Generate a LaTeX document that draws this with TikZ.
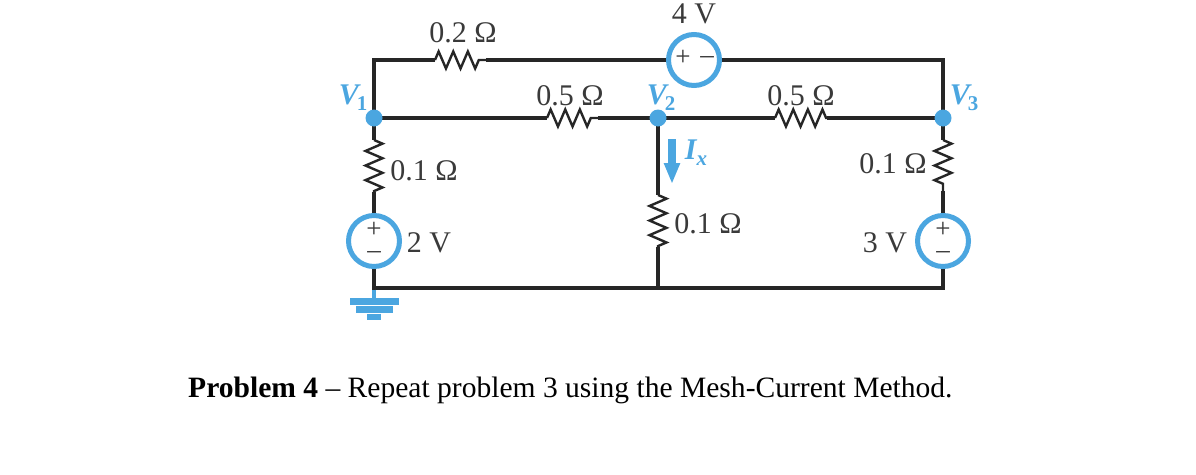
\documentclass[tikz,border=0pt]{standalone}
\usepackage{fontspec}
\setmainfont{Liberation Serif}
\usetikzlibrary{decorations.pathmorphing,arrows.meta}
\definecolor{cblue}{HTML}{4BA6E0}
\definecolor{cwire}{HTML}{262626}
\definecolor{ctext}{HTML}{3A3A3A}
\newcommand{\subtxt}[1]{\raisebox{-6pt}{\fontsize{21}{21}\selectfont #1}}
\tikzset{
  wire/.style={draw=cwire,line width=3.4pt,line cap=butt,line join=miter},
  res/.style={draw=cwire,line width=2.4pt,line join=miter,decorate,decoration={zigzag,segment length=14.6pt,amplitude=8.5pt}},
  dot/.style={circle,fill=cblue,inner sep=0pt,minimum size=17pt},
  src/.style={circle,draw=cblue,fill=white,line width=5pt,inner sep=0pt,minimum size=51pt},
  lab/.style={text=ctext,font=\fontsize{30}{30}\selectfont,inner sep=0pt},
  sgn/.style={text=ctext,font=\fontsize{27}{27}\selectfont,inner sep=0pt},
  nv/.style={text=cblue,font=\fontsize{30}{30}\selectfont\bfseries\itshape,inner sep=0pt},
  gbar/.style={fill=cblue,draw=none,minimum height=6.5pt,inner sep=0pt},
  caption/.style={text=black,font=\fontsize{29.55}{30}\selectfont,inner sep=0pt,anchor=base west}
}
\begin{document}
\begin{tikzpicture}[x=1pt,y=-1pt]
\useasboundingbox (0,0) rectangle (1196,474);
% coordinates
\coordinate (TL) at (374,60);
\coordinate (TR) at (943,60);
\coordinate (BL) at (374,288);
\coordinate (BM) at (658,288);
\coordinate (BR) at (943,288);
\coordinate (G) at (374,300);
\coordinate (R1a) at (435,60); \coordinate (R1b) at (486,60);
\coordinate (R2a) at (547,118); \coordinate (R2b) at (598,118);
\coordinate (R3a) at (775,118); \coordinate (R3b) at (827,118);
\coordinate (R4a) at (374,140); \coordinate (R4b) at (374,192);
\coordinate (R5a) at (658,195); \coordinate (R5b) at (658,247);
\coordinate (R6a) at (943,140); \coordinate (R6b) at (943,191);
\coordinate (N1) at (374,118); \coordinate (N2) at (658,118); \coordinate (N3) at (943,118);
% wires
\draw[wire] (R1a) -- (TL) -- (N1) -- (R4a);
\draw[wire] (R4b) -- (BL) -- (BR) -- (R6b);
\draw[wire] (R6a) -- (N3) -- (TR) -- (R1b);
\draw[wire] (N1) -- (R2a) (R2b) -- (R3a) (R3b) -- (N3);
\draw[wire] (N2) -- (R5a) (R5b) -- (BM);
\draw[draw=cblue,line width=4pt] (BL) ++(0,1.7) -- (G);
% resistors
\draw[res] (R1a) -- (R1b);
\draw[res] (R2a) -- (R2b);
\draw[res] (R3a) -- (R3b);
\draw[res] (R4a) -- (R4b);
\draw[res] (R5a) -- (R5b);
\draw[res] (R6a) -- (R6b);
% sources
\node[src] (S4) at (694,60) {};
\node[src] (S2) at (374,241) {};
\node[src] (S3) at (943,241) {};
\node[sgn] (s4p) at (683,58) {+};
\node[sgn] (s4m) at (707,60) {–};
\node[sgn] (s2p) at (374,230) {+};
\node[sgn] (s2m) at (374,255) {–};
\node[sgn] (s3p) at (943,230) {+};
\node[sgn] (s3m) at (943,255) {–};
% dots
\node[dot] (V1) at (N1) {};
\node[dot] (V2) at (N2) {};
\node[dot] (V3) at (N3) {};
% ground
\node[gbar,minimum width=49pt] (g1) at (374,301.5) {};
\node[gbar,minimum width=37pt] (g2) at (374,309.5) {};
\node[gbar,minimum width=14pt] (g3) at (374,317) {};
% current arrow
\coordinate (Ia) at (672,139); \coordinate (Ib) at (672,184);
\draw[draw=cblue,line width=8.5pt,-{Triangle[length=21pt,width=15pt]}] (Ia) -- (Ib);
% labels
\node[lab] (l1) at (463,33) {0.2 Ω};
\node[lab] (l2) at (570,96) {0.5 Ω};
\node[lab] (l3) at (801,96) {0.5 Ω};
\node[lab] (l4) at (694,14) {4 V};
\node[lab] (l5) at (424,171) {0.1 Ω};
\node[lab] (l6) at (429,243) {2 V};
\node[lab] (l7) at (708,224) {0.1 Ω};
\node[lab] (l8) at (893,164) {0.1 Ω};
\node[lab] (l9) at (885,243) {3 V};
\node[nv] (n1) at (353,98) {V\hspace{-2pt}\subtxt{\upshape 1}};
\node[nv] (n2) at (661,98) {V\hspace{-2pt}\subtxt{\upshape 2}};
\node[nv] (n3) at (964,98) {V\hspace{-2pt}\subtxt{\upshape 3}};
\node[nv] (nx) at (696,153) {I\subtxt{x}};
\node[caption] (cap) at (188,397) {\textbf{Problem 4} – Repeat problem 3 using the Mesh-Current Method.};
\end{tikzpicture}
\end{document}
